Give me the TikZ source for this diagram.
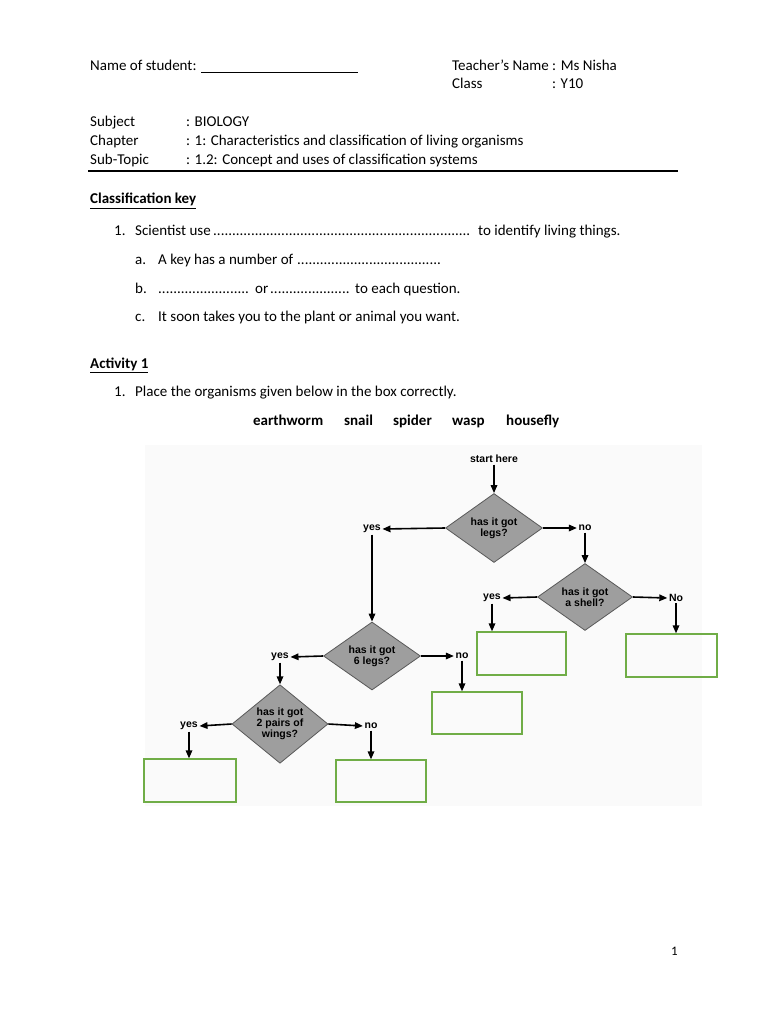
\documentclass[tikz,border=0pt]{standalone}
\usepackage{fontspec}
\setmainfont{Carlito}
\newfontfamily\arialf{Liberation Sans}
\usetikzlibrary{shapes.geometric,arrows.meta,calc}
\definecolor{boxgreen}{HTML}{70AD47}
\newcommand{\dotrun}[1]{\makebox[#1]{\leaders\hbox{.}\hfill}}
\begin{document}
\begin{tikzpicture}[x=1pt,y=-1pt,
 txt/.style={anchor=base west,inner sep=0pt,font=\fontsize{15}{18}\selectfont},
 btxt/.style={anchor=base west,inner sep=0pt,font=\fontsize{15}{18}\selectfont\bfseries},
 q/.style={diamond,draw=black!65,fill=black!38,line width=0.8pt,inner sep=0pt,align=center,font=\arialf\bfseries\fontsize{10.5}{11}\selectfont},
 lab/.style={inner sep=1.5pt,font=\arialf\bfseries\fontsize{10.5}{12}\selectfont},
 ansbox/.style={draw=boxgreen,line width=1.3pt,inner sep=0pt},
 arr/.style={line width=1.6pt,-{Triangle[length=8pt,width=6.5pt]}}
]
\useasboundingbox (0,0) rectangle (768,1024);
\fill[white] (0,0) rectangle (768,1024);
% header
\node[txt] (name) at (90,71) {Name of student: \rule[-2pt]{157pt}{0.7pt}};
\node[txt] (teacher) at (452,71) {Teacher’s Name : Ms Nisha};
\node[txt] (classl) at (452,89) {Class};
\node[txt] (classv) at (552,89) {: Y10};
\node[txt] (subl) at (90,127) {Subject};
\node[txt] (subv) at (186,127) {: BIOLOGY};
\node[txt] (chapl) at (90,146) {Chapter};
\node[txt] (chapv) at (186,146) {: 1: Characteristics and classification of living organisms};
\node[txt] (topl) at (90,165) {Sub-Topic};
\node[txt] (topv) at (186,165) {: 1.2: Concept and uses of classification systems};
\coordinate (rl) at (88,171.5);
\coordinate (rr) at (678,171.5);
\draw[line width=2pt] (rl) -- (rr);
% classification key
\node[btxt] (ckey) at (90,204) {\underline{Classification key}};
\node[txt] (n1) at (114,236) {1.};
\node[txt] (s1) at (135,236) {Scientist use};
\node[txt] (d1dots) at (213,236) {\dotrun{261pt}};
\node[txt] (s1b) at (478,236) {to identify living things.};
\node[txt] (na) at (135,264) {a.};
\node[txt] (sa) at (158,264) {A key has a number of};
\node[txt] (dadots) at (297,264) {\dotrun{146pt}};
\node[txt] (nb) at (135,293) {b.};
\node[txt] (db1) at (158,293) {\dotrun{92pt}};
\node[txt] (sor) at (255,293) {or};
\node[txt] (db2) at (270,293) {\dotrun{80pt}};
\node[txt] (sb) at (355,293) {to each question.};
\node[txt] (nc) at (135,321) {c.};
\node[txt] (sc) at (158,321) {It soon takes you to the plant or animal you want.};
% activity
\node[btxt] (act) at (90,368) {\underline{Activity 1}};
\node[txt] (n2) at (114,396) {1.};
\node[txt] (s2) at (135,396) {Place the organisms given below in the box correctly.};
\node[btxt] (o1) at (253,425) {earthworm};
\node[btxt] (o2) at (344,425) {snail};
\node[btxt] (o3) at (393,425) {spider};
\node[btxt] (o4) at (452,425) {wasp};
\node[btxt] (o5) at (506,425) {housefly};
% scanned area
\fill[black!2] (145,445) rectangle (702,806);
% flowchart
\node[lab] (start) at (494,459) {start here};
\node[q,minimum width=97pt,minimum height=69pt] (q1) at (494,528) {has it got\\legs?};
\node[lab] (yes1) at (372,529) {yes};
\node[lab] (no1) at (585,528) {no};
\node[q,minimum width=95pt,minimum height=67pt] (q3) at (585,597) {has it got\\a shell?};
\node[lab] (yes3) at (492,598) {yes};
\node[lab] (no3) at (676,598) {No};
\node[q,minimum width=97pt,minimum height=68pt] (q2) at (372,656) {has it got\\6 legs?};
\node[lab] (yes2) at (280,657) {yes};
\node[lab] (no2) at (462,656) {no};
\node[q,minimum width=96pt,minimum height=68pt] (q4) at (280,724) {has it got\\2 pairs of\\wings?};
\node[lab] (yes4) at (189,726) {yes};
\node[lab] (no4) at (371,726) {no};
\node[ansbox,minimum width=89pt,minimum height=43pt] (b1) at (521.5,653.5) {};
\node[ansbox,minimum width=91pt,minimum height=43pt] (b2) at (671.5,655.5) {};
\node[ansbox,minimum width=90pt,minimum height=42pt] (b5) at (477,713) {};
\node[ansbox,minimum width=92pt,minimum height=43pt] (b3) at (190,780.5) {};
\node[ansbox,minimum width=90pt,minimum height=42pt] (b4) at (381,781) {};
\draw[arr] (start) -- (q1.north);
\draw[arr] (q1.west) -- (yes1.east);
\draw[arr] (q1.east) -- (no1.west);
\draw[arr] (yes1.south) -- (q2.north);
\draw[arr] (no1.south) -- (q3.north);
\draw[arr] (q3.west) -- (yes3.east);
\draw[arr] (q3.east) -- (no3.west);
\draw[arr] (yes3.south) -- (yes3.south |- b1.north);
\draw[arr] (no3.south) -- (no3.south |- b2.north);
\draw[arr] (q2.west) -- (yes2.east);
\draw[arr] (q2.east) -- (no2.west);
\draw[arr] (yes2.south) -- (q4.north);
\draw[arr] (no2.south) -- (no2.south |- b5.north);
\draw[arr] (q4.west) -- (yes4.east);
\draw[arr] (q4.east) -- (no4.west);
\draw[arr] (yes4.south) -- (yes4.south |- b3.north);
\draw[arr] (no4.south) -- (no4.south |- b4.north);
% page number
\node[txt,font=\fontsize{13}{15}\selectfont] (pg) at (671,955) {1};
\end{tikzpicture}
\end{document}
